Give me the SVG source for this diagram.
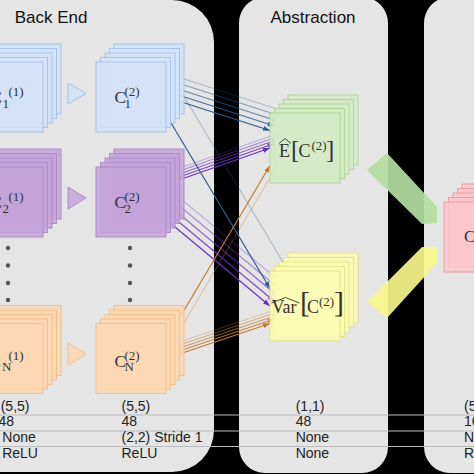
<svg xmlns="http://www.w3.org/2000/svg" width="474" height="474" viewBox="0 0 474 474">
<style>
.panel{fill:#e5e5e5}
.tl{stroke:#bcbcbc;stroke-width:1.2}
.tt{font-family:"Liberation Sans",Arial,sans-serif;font-size:14px;fill:#222}
.ttl{font-family:"Liberation Sans",Arial,sans-serif;font-size:17px;fill:#111}
.m{font-family:"Liberation Serif","Times New Roman",serif;fill:#333}
.c{font-size:17px}
.s{font-size:13px}
.blue rect,.blue polygon{fill:#d3e3f7;fill-opacity:.85;stroke:#a6c3ea;stroke-width:1}
.purple rect,.purple polygon{fill:#c4a3d8;fill-opacity:.85;stroke:#ae8bca;stroke-width:1}
.orange rect,.orange polygon{fill:#fdd8b3;fill-opacity:.85;stroke:#f5bf8c;stroke-width:1}
.green rect{fill:#d4ebc7;fill-opacity:.85;stroke:#b0d89b;stroke-width:1}
.yellow rect{fill:#fbfbb5;fill-opacity:.85;stroke:#e3e389;stroke-width:1}
.pink rect{fill:#fbc7cb;fill-opacity:.85;stroke:#ef9ba3;stroke-width:1}
.lb{stroke:#2b5d91;stroke-width:1.2;fill:none;marker-end:url(#ab)}
.lp{stroke:#6b2fbf;stroke-width:1.2;fill:none;marker-end:url(#ap)}
.lo{stroke:#c47a2c;stroke-width:1.2;fill:none;marker-end:url(#ao)}
.k1{opacity:.85}.k2{opacity:.68}.k3{opacity:.5}.k4{opacity:.3}
.dot{fill:#555}
.hat{fill:none;stroke:#333;stroke-width:.9}
</style>
<defs>
<marker id="ab" viewBox="0 0 7 5" refX="7" refY="2.5" markerWidth="7" markerHeight="5" markerUnits="userSpaceOnUse" orient="auto"><path d="M0,0L7,2.5L0,5z" fill="#2b5d91"/></marker>
<marker id="ap" viewBox="0 0 7 5" refX="7" refY="2.5" markerWidth="7" markerHeight="5" markerUnits="userSpaceOnUse" orient="auto"><path d="M0,0L7,2.5L0,5z" fill="#6b2fbf"/></marker>
<marker id="ao" viewBox="0 0 7 5" refX="7" refY="2.5" markerWidth="7" markerHeight="5" markerUnits="userSpaceOnUse" orient="auto"><path d="M0,0L7,2.5L0,5z" fill="#c47a2c"/></marker>
</defs>
<rect x="0" y="0" width="474" height="474" fill="#000"/>
<g id="panels">
<rect class="panel" x="-50" y="0" width="264" height="472" rx="42"/>
<rect class="panel" x="239" y="-3" width="149" height="476" rx="26"/>
<rect class="panel" x="424" y="-3" width="110" height="476" rx="26"/>
</g>
<g id="table">
<line class="tl" x1="0" y1="415" x2="474" y2="415"/>
<line class="tl" x1="0" y1="431" x2="474" y2="431"/>
<line class="tl" x1="0" y1="446.5" x2="474" y2="446.5"/>
<text class="tt" x="0.7" y="411">(5,5)</text>
<text class="tt" x="-1.5" y="426">48</text>
<text class="tt" x="2.3" y="442">None</text>
<text class="tt" x="2.2" y="458">ReLU</text>
<text class="tt" x="121.5" y="411">(5,5)</text>
<text class="tt" x="121.5" y="426">48</text>
<text class="tt" x="121.5" y="442">(2,2) Stride 1</text>
<text class="tt" x="121.5" y="458">ReLU</text>
<text class="tt" x="295.7" y="411">(1,1)</text>
<text class="tt" x="295.7" y="426">48</text>
<text class="tt" x="295.7" y="442">None</text>
<text class="tt" x="295.7" y="458">None</text>
<text class="tt" x="464" y="411">(5,5)</text>
<text class="tt" x="464" y="426">16</text>
<text class="tt" x="464" y="442">None</text>
<text class="tt" x="464" y="458">ReLU</text>
</g>
<text class="ttl" x="14.7" y="22.5">Back End</text>
<text class="ttl" x="270.5" y="22.5">Abstraction</text>
<g id="connectors">
<line class="lb k4" x1="184" y1="79" x2="288" y2="112.5"/>
<line class="lb k3" x1="179.5" y1="83.5" x2="283.5" y2="117"/>
<line class="lb k2" x1="175" y1="88" x2="279" y2="121.5"/>
<line class="lb k1" x1="170.5" y1="92.5" x2="274.5" y2="126"/>
<line class="lb" x1="166" y1="97" x2="270" y2="130.5"/>
<line class="lb k4" x1="184" y1="96.5" x2="288" y2="270.5"/>
<line class="lb" x1="166" y1="114.5" x2="270" y2="288.5"/>
<line class="lp k4" x1="184" y1="166.5" x2="288" y2="130"/>
<line class="lp k3" x1="179.5" y1="171" x2="283.5" y2="134.5"/>
<line class="lp k2" x1="175" y1="175.5" x2="279" y2="139"/>
<line class="lp k1" x1="170.5" y1="180" x2="274.5" y2="143.5"/>
<line class="lp" x1="166" y1="184.5" x2="270" y2="148"/>
<line class="lp k4" x1="184" y1="201.5" x2="288" y2="288"/>
<line class="lp k3" x1="179.5" y1="206" x2="283.5" y2="292.5"/>
<line class="lp k2" x1="175" y1="210.5" x2="279" y2="297"/>
<line class="lp k1" x1="170.5" y1="215" x2="274.5" y2="301.5"/>
<line class="lp" x1="166" y1="219.5" x2="270" y2="306"/>
<line class="lo k4" x1="184" y1="322.75" x2="288" y2="147.5"/>
<line class="lo" x1="166" y1="340.75" x2="270" y2="165.5"/>
<line class="lo k4" x1="184" y1="340.5" x2="288" y2="305.5"/>
<line class="lo k3" x1="179.5" y1="345" x2="283.5" y2="310"/>
<line class="lo k2" x1="175" y1="349.5" x2="279" y2="314.5"/>
<line class="lo k1" x1="170.5" y1="354" x2="274.5" y2="319"/>
<line class="lo" x1="166" y1="358.5" x2="270" y2="323.5"/>
</g>
<g id="c1-1" class="blue">
<rect x="-9" y="44" width="70" height="70"/><rect x="-13.5" y="48.5" width="70" height="70"/><rect x="-18" y="53" width="70" height="70"/><rect x="-22.5" y="57.5" width="70" height="70"/><rect x="-27" y="62" width="70" height="70"/>
<text class="m c" x="-9.5" y="103">C</text><text class="m s" x="8.5" y="96">(1)</text><text class="m s" x="2.5" y="108">1</text>
</g>
<g id="c2-1" class="blue">
<rect x="114" y="44" width="70" height="70"/><rect x="109.5" y="48.5" width="70" height="70"/><rect x="105" y="53" width="70" height="70"/><rect x="100.5" y="57.5" width="70" height="70"/><rect x="96" y="62" width="70" height="70"/>
<text class="m c" x="114.5" y="103">C</text><text class="m s" x="124.5" y="96">(2)</text><text class="m s" x="124.5" y="108">1</text>
</g>
<g id="c1-2" class="purple">
<rect x="-9" y="149" width="70" height="70"/><rect x="-13.5" y="153.5" width="70" height="70"/><rect x="-18" y="158" width="70" height="70"/><rect x="-22.5" y="162.5" width="70" height="70"/><rect x="-27" y="167" width="70" height="70"/>
<text class="m c" x="-9.5" y="208">C</text><text class="m s" x="8.5" y="201">(1)</text><text class="m s" x="2.5" y="212.5">2</text>
</g>
<g id="c2-2" class="purple">
<rect x="114" y="149" width="70" height="70"/><rect x="109.5" y="153.5" width="70" height="70"/><rect x="105" y="158" width="70" height="70"/><rect x="100.5" y="162.5" width="70" height="70"/><rect x="96" y="167" width="70" height="70"/>
<text class="m c" x="114.5" y="208">C</text><text class="m s" x="124.5" y="201">(2)</text><text class="m s" x="124.5" y="212.5">2</text>
</g>
<g id="c1-n" class="orange">
<rect x="-9" y="305.5" width="70" height="70"/><rect x="-13.5" y="310" width="70" height="70"/><rect x="-18" y="314.5" width="70" height="70"/><rect x="-22.5" y="319" width="70" height="70"/><rect x="-27" y="323.5" width="70" height="70"/>
<text class="m c" x="-10.5" y="367">C</text><text class="m s" x="8.5" y="360">(1)</text><text class="m s" x="2" y="370.5">N</text>
</g>
<g id="c2-n" class="orange">
<rect x="114" y="305.5" width="70" height="70"/><rect x="109.5" y="310" width="70" height="70"/><rect x="105" y="314.5" width="70" height="70"/><rect x="100.5" y="319" width="70" height="70"/><rect x="96" y="323.5" width="70" height="70"/>
<text class="m c" x="114.5" y="367">C</text><text class="m s" x="124.5" y="360">(2)</text><text class="m s" x="124.5" y="370.5">N</text>
</g>
<g id="tri-1" class="blue"><polygon points="68,83 86,93.5 68,104"/></g>
<g id="tri-2" class="purple"><polygon points="68,187 86,198 68,209"/></g>
<g id="tri-n" class="orange"><polygon points="68,343 86,354 68,365"/></g>
<g id="dots">
<circle class="dot" cx="8" cy="248" r="2.2"/><circle class="dot" cx="8" cy="265.5" r="2.2"/><circle class="dot" cx="8" cy="283" r="2.2"/><circle class="dot" cx="8" cy="300" r="2.2"/>
<circle class="dot" cx="130" cy="248" r="2.2"/><circle class="dot" cx="130" cy="265.5" r="2.2"/><circle class="dot" cx="130" cy="283" r="2.2"/><circle class="dot" cx="130" cy="300" r="2.2"/>
</g>
<g id="mean" class="green">
<rect x="288" y="95" width="70" height="70"/><rect x="283.5" y="99.5" width="70" height="70"/><rect x="279" y="104" width="70" height="70"/><rect x="274.5" y="108.5" width="70" height="70"/><rect x="270" y="113" width="70" height="70"/>
<text class="m" x="279" y="157" font-size="18">E</text>
<path class="hat" d="M279,143.5L285,138.5L291,143.5"/>
<text class="m" x="291" y="157.5" font-size="25">[</text>
<text class="m" x="298.5" y="157" font-size="18">C</text>
<text class="m s" x="311.5" y="150">(2)</text>
<text class="m" x="326" y="157.5" font-size="25">]</text>
</g>
<g id="var" class="yellow">
<rect x="288" y="253" width="70" height="70"/><rect x="283.5" y="257.5" width="70" height="70"/><rect x="279" y="262" width="70" height="70"/><rect x="274.5" y="266.5" width="70" height="70"/><rect x="270" y="271" width="70" height="70"/>
<text class="m" x="271.5" y="313" font-size="18">Var</text>
<path class="hat" d="M271.5,303L285.5,297.5L299.5,303"/>
<text class="m" x="300" y="312" font-size="30">[</text>
<text class="m" x="307" y="313" font-size="18">C</text>
<text class="m s" x="319" y="306">(2)</text>
<text class="m" x="334" y="312" font-size="30">]</text>
</g>
<g id="arrows">
<polygon points="367,170 387,153 437,207 437,223 422,224" fill="#b3dda0" fill-opacity=".92"/>
<polygon points="367,302 422,247 437,247 437,263 387,318" fill="#f6f68a" fill-opacity=".92"/>
</g>
<g id="out" class="pink">
<rect x="462" y="184" width="70" height="70"/><rect x="457.5" y="188.5" width="70" height="70"/><rect x="453" y="193" width="70" height="70"/><rect x="448.5" y="197.5" width="70" height="70"/><rect x="444" y="202" width="70" height="70"/>
<text class="m c" x="464" y="242">C</text>
</g>
</svg>
